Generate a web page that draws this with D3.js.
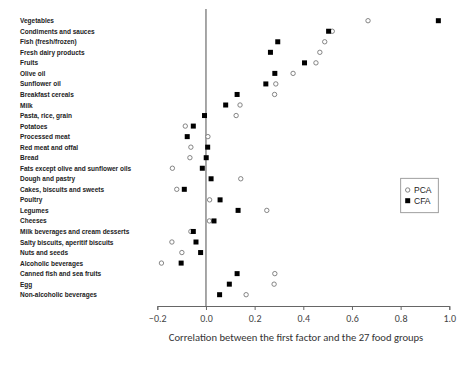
<!DOCTYPE html>
<html><head><meta charset="utf-8">
<script src="https://cdn.jsdelivr.net/npm/d3@7"></script>
<style>body{margin:0;background:#fff}svg{display:block}</style>
</head><body><svg id="c" width="474" height="367"></svg>
<script>
const categories = ["Vegetables","Condiments and sauces","Fish (fresh/frozen)","Fresh dairy products","Fruits","Olive oil","Sunflower oil","Breakfast cereals","Milk","Pasta, rice, grain","Potatoes","Processed meat","Red meat and offal","Bread","Fats except olive and sunflower oils","Dough and pastry","Cakes, biscuits and sweets","Poultry","Legumes","Cheeses","Milk beverages and cream desserts","Salty biscuits, aperitif biscuits","Nuts and seeds","Alcoholic beverages","Canned fish and sea fruits","Egg","Non-alcoholic beverages"];
const pcaValues = [0.666,0.519,0.488,0.468,0.452,0.358,0.287,0.282,0.140,0.124,-0.085,0.008,-0.062,-0.066,-0.138,0.143,-0.120,0.015,0.250,0.014,-0.062,-0.140,-0.099,-0.183,0.283,0.280,0.165];
const cfaValues = [0.955,0.504,0.295,0.265,0.405,0.283,0.246,0.128,0.081,-0.006,-0.052,-0.077,0.007,0.001,-0.015,0.021,-0.089,0.058,0.132,0.033,-0.052,-0.041,-0.022,-0.102,0.128,0.096,0.056];
const xTicks = [-0.2,0.0,0.2,0.4,0.6,0.8,1.0];
const seriesNames = ["PCA","CFA"];
const xTitle = "Correlation between the first factor and the 27 food groups";

const svg = d3.select("#c");
const x = d3.scaleLinear().domain([-0.2,1.0]).range([157.3,449.3]);
const y = d3.scalePoint().domain(categories).range([20.7,294.7]);

// category labels
svg.append("g").attr("transform","translate(20,0) scale(0.89,1)")
  .selectAll("text").data(categories).join("text")
  .attr("x",0).attr("y",d=>y(d)).attr("dy","0.35em")
  .attr("font-family","Liberation Sans, Arial, sans-serif").attr("font-weight","bold")
  .attr("font-size",7.3).attr("fill","#222").text(d=>d);

// zero line
svg.append("line").attr("x1",x(0)).attr("x2",x(0)).attr("y1",9).attr("y2",306)
  .attr("stroke","#777").attr("stroke-width",1.3);

// x axis
const axis = d3.axisBottom(x).tickValues(xTicks).tickFormat(d3.format(".1f")).tickSizeOuter(0).tickSize(4);
const g = svg.append("g").attr("transform","translate(0,306)").call(axis);
g.select(".domain").attr("stroke","#666");
g.selectAll(".tick line").attr("stroke","#666");
g.selectAll(".tick text").attr("font-family","Carlito, Liberation Sans, sans-serif").attr("font-size",10)
  .attr("fill","#444").attr("dy","0.9em").text(d=>d3.format(".1f")(d).replace("-","\u2212"));

svg.append("text").attr("x",296).attr("y",337).attr("dy","0.35em").attr("text-anchor","middle")
  .attr("font-family","Carlito, Liberation Sans, sans-serif").attr("font-size",10.6).attr("fill","#333").text(xTitle);

// PCA circles
svg.append("g").selectAll("circle").data(pcaValues).join("circle")
  .attr("cx",d=>x(d)).attr("cy",(d,i)=>y(categories[i])).attr("r",2.2)
  .attr("fill","#fff").attr("stroke","#777").attr("stroke-width",0.9);
// CFA squares
svg.append("g").selectAll("rect").data(cfaValues).join("rect")
  .attr("x",d=>x(d)-2.5).attr("y",(d,i)=>y(categories[i])-2.5).attr("width",5).attr("height",5)
  .attr("fill","#000");

// legend
const lg = svg.append("g");
lg.append("rect").attr("x",400.7).attr("y",178.3).attr("width",37.6).attr("height",34.4)
  .attr("fill","#fff").attr("stroke","#888").attr("stroke-width",0.8);
lg.append("circle").attr("cx",407.7).attr("cy",190).attr("r",2.2).attr("fill","#fff").attr("stroke","#777").attr("stroke-width",0.9);
lg.append("rect").attr("x",405.2).attr("y",198.2).attr("width",5).attr("height",5).attr("fill","#000");
lg.selectAll("text").data(seriesNames).join("text")
  .attr("x",414).attr("y",(d,i)=>190+i*10.7).attr("dy","0.35em")
  .attr("font-family","Liberation Sans, Arial, sans-serif").attr("font-size",8.5).attr("fill","#222").text(d=>d);
</script></body></html>
